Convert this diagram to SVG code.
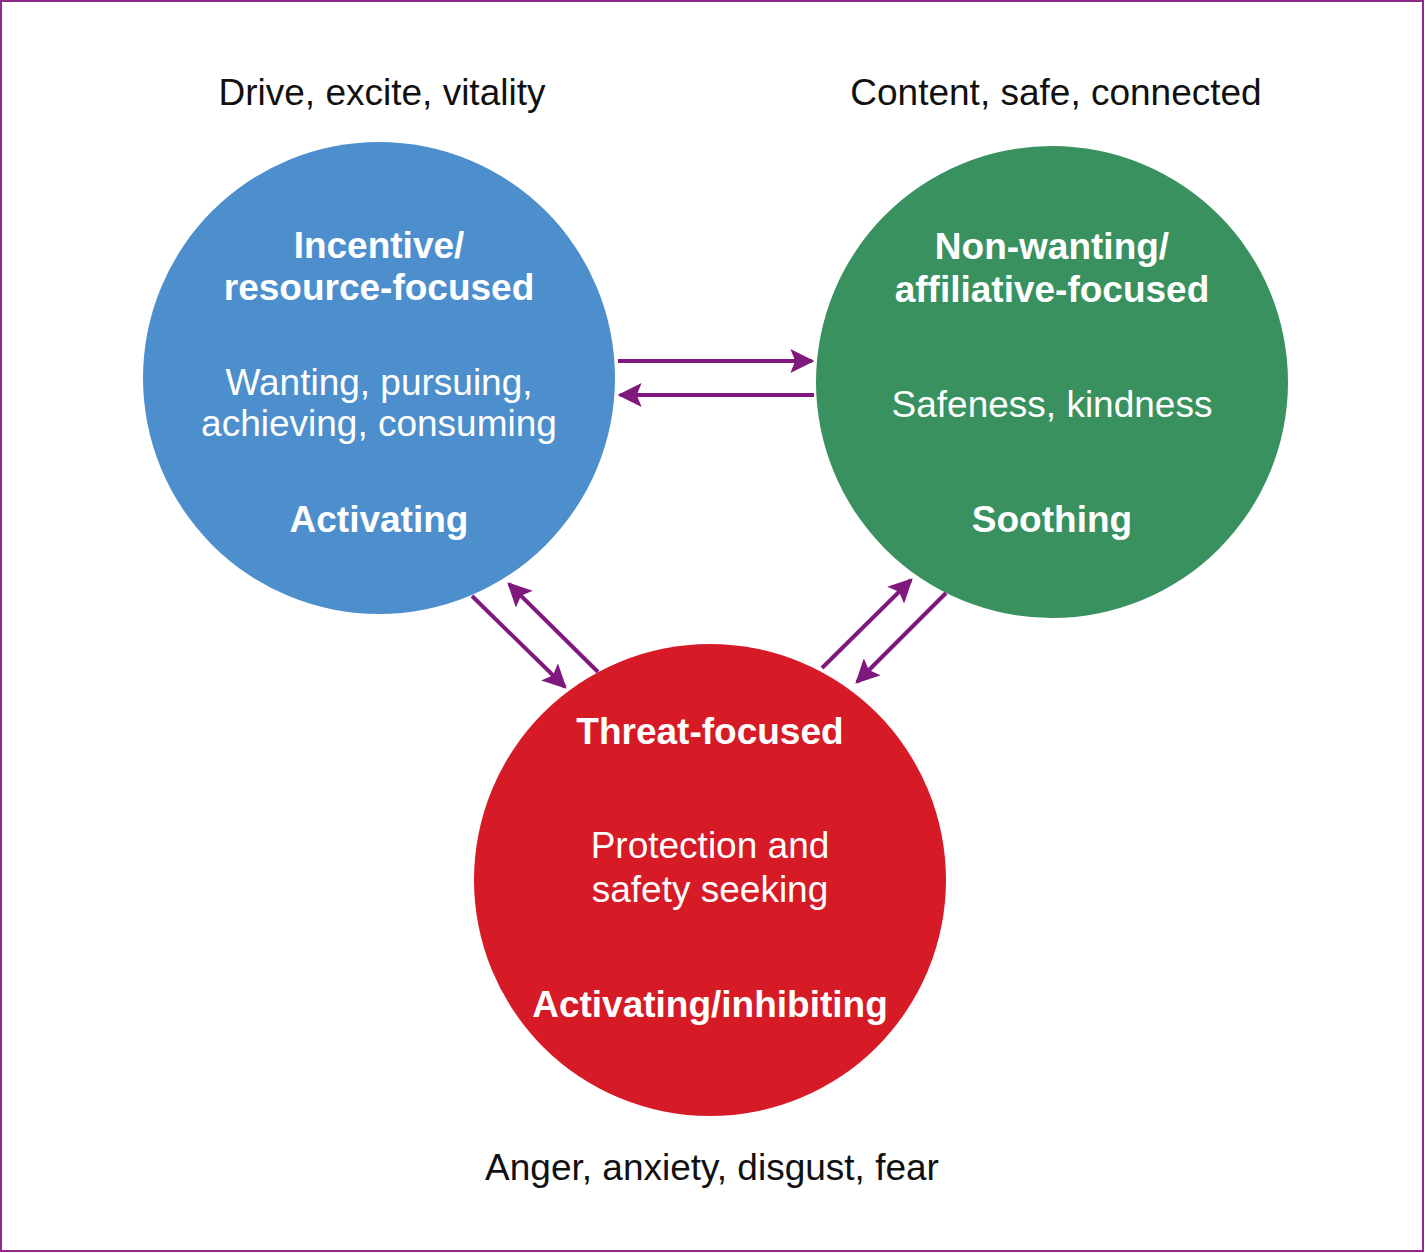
<svg xmlns="http://www.w3.org/2000/svg" width="1425" height="1253" viewBox="0 0 1425 1253">
<style>
text{font-family:"Liberation Sans",Arial,sans-serif;text-anchor:middle}
.cap{font-size:37px;fill:#111}
.b{font-size:37px;font-weight:bold;fill:#fff}
.n{font-size:37px;fill:#fff}
.c{stroke:#80197d;stroke-width:4;fill:none;marker-end:url(#ah)}
</style>
<defs><marker id="ah" viewBox="0 0 10 10" refX="9" refY="5" markerWidth="6" markerHeight="6" markerUnits="strokeWidth" orient="auto"><path d="M0,0L10,5L0,10L2,5z" fill="#80197d"/></marker></defs>
<rect x="1" y="1" width="1422" height="1250" fill="#fff" stroke="#8e2a8c" stroke-width="2"/>
<text class="cap" x="382" y="105">Drive, excite, vitality</text>
<text class="cap" x="1056" y="105">Content, safe, connected</text>
<text class="cap" x="712" y="1180">Anger, anxiety, disgust, fear</text>
<g id="incentive"><circle cx="379" cy="378" r="236" fill="#4d8fcc"/>
<text class="b" x="379" y="258">Incentive/</text><text class="b" x="379" y="300">resource-focused</text>
<text class="n" x="379" y="395">Wanting, pursuing,</text><text class="n" x="379" y="436">achieving, consuming</text>
<text class="b" x="379" y="532">Activating</text></g>
<g id="affiliative"><circle cx="1052" cy="382" r="236" fill="#3a9160"/>
<text class="b" x="1052" y="259">Non-wanting/</text><text class="b" x="1052" y="302">affiliative-focused</text>
<text class="n" x="1052" y="417">Safeness, kindness</text>
<text class="b" x="1052" y="532">Soothing</text></g>
<g id="threat"><circle cx="710" cy="880" r="236" fill="#d61a26"/>
<text class="b" x="710" y="744">Threat-focused</text>
<text class="n" x="710" y="858">Protection and</text><text class="n" x="710" y="902">safety seeking</text>
<text class="b" x="710" y="1017">Activating/inhibiting</text></g>
<g id="connectors">
<line class="c" x1="618" y1="361" x2="812" y2="361"/>
<line class="c" x1="814" y1="395" x2="620" y2="395"/>
<line class="c" x1="472" y1="596" x2="565" y2="687"/>
<line class="c" x1="598" y1="672" x2="509" y2="584"/>
<line class="c" x1="822" y1="668" x2="911" y2="580"/>
<line class="c" x1="946" y1="593" x2="857" y2="682"/>
</g>
</svg>
